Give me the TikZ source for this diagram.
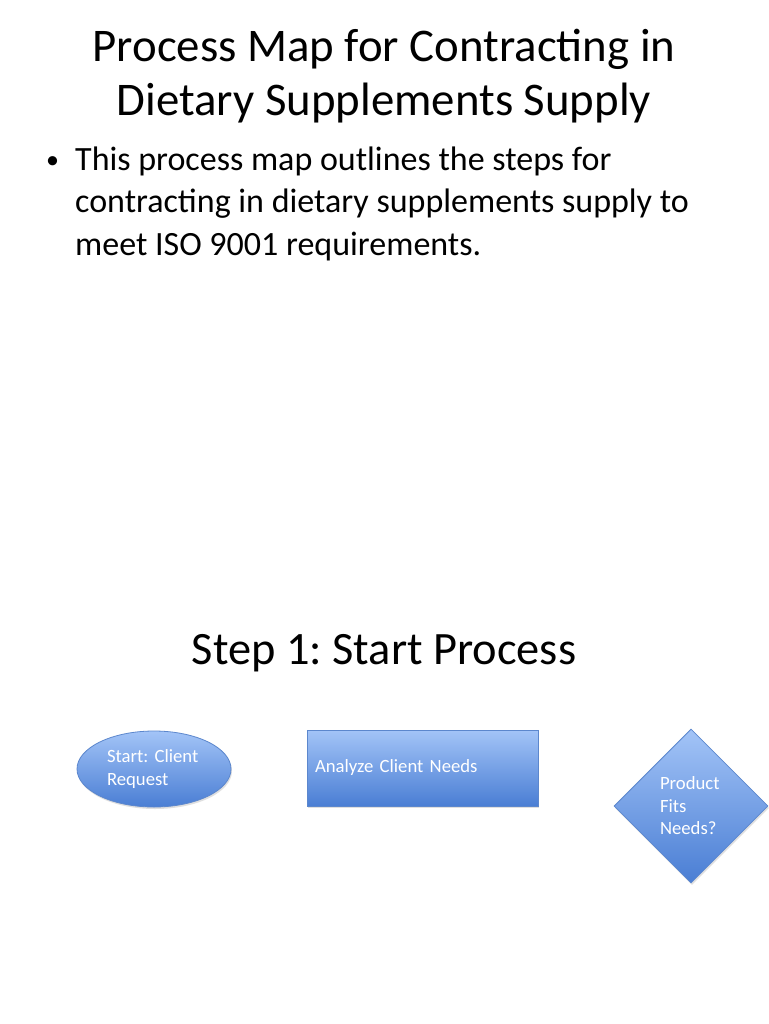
\documentclass[tikz,border=0pt]{standalone}
\usepackage{fontspec}
\setmainfont{Carlito}
\usetikzlibrary{shapes.geometric,shadows}
\definecolor{boxtop}{RGB}{163,196,247}
\definecolor{boxbot}{RGB}{74,126,212}
\definecolor{boxline}{RGB}{92,135,205}
\frenchspacing
\begin{document}
\begin{tikzpicture}[x=1pt, y=-1pt,
    every node/.style = {inner sep=0pt},
    heading/.style = {anchor=base, font=\fontsize{46.8}{54}\selectfont},
    bodytext/.style = {anchor=base west, font=\fontsize{34}{42}\selectfont},
    flowbox/.style = {draw=boxline, line width=0.8pt, top color=boxtop, bottom color=boxbot,
                      text=white, align=left, font=\fontsize{18.7}{22.5}\selectfont,
                      drop shadow={opacity=0.25, shadow xshift=1pt, shadow yshift=-2pt}}]
    \useasboundingbox[fill=white] (0,0) rectangle (768,1024);
    % title and bullet text
    \node[heading] (title1) at (384,62) {Process Map for Contracting in};
    \node[heading] (title2) at (384,116) {Dietary Supplements Supply};
    \node[bodytext, font=\fontsize{26}{42}\selectfont] (bullet) at (46,169) {•};
    \node[bodytext] (line1) at (75,171) {This process map outlines the steps for};
    \node[bodytext] (line2) at (75,213) {contracting in dietary supplements supply to};
    \node[bodytext] (line3) at (75,255) {meet ISO 9001 requirements.};
    % step 1
    \node[heading, font=\fontsize{46.4}{54}\selectfont] (step) at (384,664) {Step 1: Start Process};
    \node[flowbox, ellipse, minimum width=154pt, minimum height=76pt, text width=94pt]
        (start) at (154,769) {Start: Client\\Request};
    \node[flowbox, rectangle, minimum width=231pt, minimum height=76pt, text width=215pt]
        (analyze) at (422.5,768) {Analyze Client Needs};
    \node[flowbox, diamond, minimum width=154pt, minimum height=154pt, text width=62pt]
        (fits) at (691,806) {Product\\Fits\\Needs?};
\end{tikzpicture}
\end{document}
